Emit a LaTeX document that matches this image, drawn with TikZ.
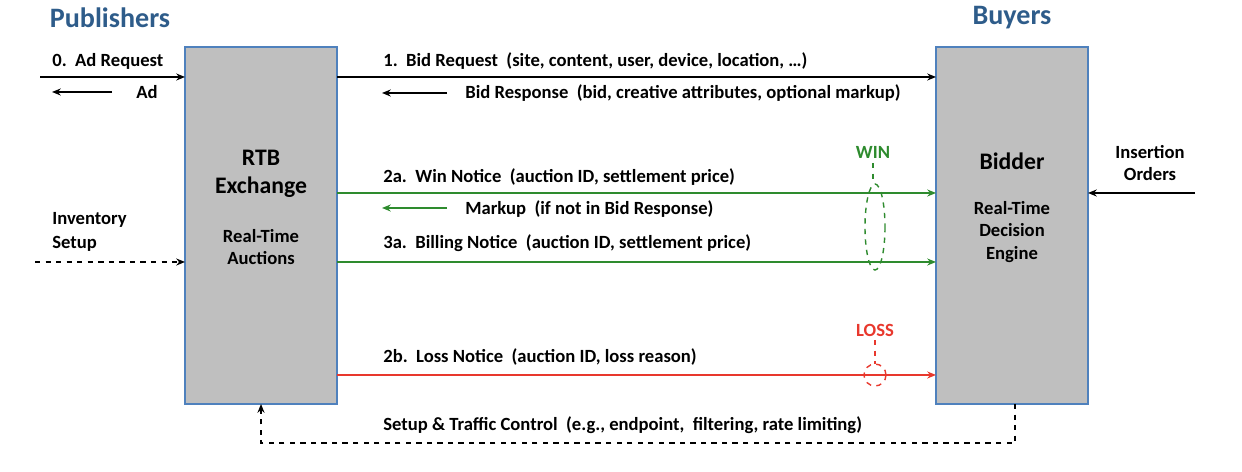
\documentclass[tikz,border=0pt]{standalone}
\usepackage{fontspec}
\setmainfont{Carlito}
\usetikzlibrary{arrows.meta}
\definecolor{bx}{HTML}{BFBFBF}
\definecolor{bb}{HTML}{4F81BD}
\definecolor{ttl}{HTML}{2E5C8A}
\definecolor{gr}{HTML}{2E8B2E}
\definecolor{rd}{HTML}{E8382D}
\begin{document}
\begin{tikzpicture}[x=0.02cm,y=-0.02cm,
  box/.style={draw=bb,line width=1.2pt,fill=bx},
  lbl/.style={font=\fontsize{10.6}{12}\selectfont\bfseries,anchor=west,inner sep=0},
  ctr/.style={font=\fontsize{10.6}{11}\selectfont\bfseries,align=center,inner sep=0},
  arr/.style={-{Stealth[length=5pt,width=4pt]},line width=0.8pt},
  ttlst/.style={font=\fontsize{16}{18}\selectfont\bfseries,text=ttl}]
\useasboundingbox (0,0) rectangle (1242,472);
\fill[box] (185,47) rectangle (337,404);
\fill[box] (936,47) rectangle (1088,404);
\node[ttlst] (pub) at (110,18) {Publishers};
\node[ttlst] (buy) at (1012,18) {Buyers};
\node[font=\fontsize{13.5}{16}\selectfont\bfseries,align=center] (rtb) at (261,174) {RTB\\Exchange};
\node[ctr,align=center] (rta) at (261,247) {Real-Time\\[2pt]Auctions};
\node[font=\fontsize{13.5}{16}\selectfont\bfseries] (bid) at (1012,161) {Bidder};
\node[ctr] (rtd) at (1012,232) {Real-Time\\[2pt]Decision\\[2pt]Engine};
% coordinates
\coordinate (L0) at (40,77); \coordinate (L0e) at (185,77);
\coordinate (X1) at (337,77); \coordinate (B1) at (936,77);
% publisher side
\node[lbl] (t0) at (52,61) {0.\ \ Ad Request};
\draw[arr] (L0) -- (L0e);
\coordinate (ad1) at (112,92); \coordinate (ad2) at (52,92);
\draw[arr] (ad1) -- (ad2);
\node[lbl] (tad) at (136,92) {Ad};
\node[lbl,align=left] (inv) at (52,232) {Inventory\\[2pt]Setup};
\coordinate (iv1) at (35,262); \coordinate (iv2) at (185,262);
\draw[arr,dashed] (iv1) -- (iv2);
% bid request/response
\node[lbl] (t1) at (383,61) {1.\ \ Bid Request\ \ (site, content, user, device, location, …)};
\draw[arr] (X1) -- (B1);
\coordinate (r1) at (447,93); \coordinate (r2) at (382,93);
\draw[arr] (r1) -- (r2);
\node[lbl] (tr) at (465,93) {Bid Response\ \ (bid, creative attributes, optional markup)};
% win
\node[lbl] (t2a) at (383,177) {2a.\ \ Win Notice\ \ (auction ID, settlement price)};
\coordinate (w1) at (337,193); \coordinate (w2) at (936,193);
\draw[arr,gr] (w1) -- (w2);
\coordinate (m1) at (447,208); \coordinate (m2) at (382,208);
\draw[arr,gr] (m1) -- (m2);
\node[lbl] (tm) at (465,209) {Markup\ \ (if not in Bid Response)};
\node[lbl] (t3a) at (383,243) {3a.\ \ Billing Notice\ \ (auction ID, settlement price)};
\coordinate (b1) at (337,262); \coordinate (b2) at (936,262);
\draw[arr,gr] (b1) -- (b2);
\node[font=\fontsize{10.6}{12}\selectfont\bfseries,text=gr] (win) at (873,152) {WIN};
\coordinate (wl1) at (873,163); \coordinate (wl2) at (873,184);
\draw[gr,dashed,line width=0.8pt] (wl1) -- (wl2);
\draw[gr,dashed,line width=0.8pt] (875,227) ellipse [x radius=10,y radius=43];
% loss
\node[lbl] (t2b) at (383,357) {2b.\ \ Loss Notice\ \ (auction ID, loss reason)};
\coordinate (l1) at (337,375); \coordinate (l2) at (936,375);
\draw[arr,rd] (l1) -- (l2);
\node[font=\fontsize{10.6}{12}\selectfont\bfseries,text=rd] (loss) at (875,330) {LOSS};
\coordinate (ll1) at (875,340); \coordinate (ll2) at (875,364);
\draw[rd,dashed,line width=0.8pt] (ll1) -- (ll2);
\draw[rd,dashed,line width=0.8pt] (875,375) circle [radius=11];
% insertion orders
\node[ctr] (io) at (1150,163) {Insertion\\[2pt]Orders};
\coordinate (io1) at (1195,193); \coordinate (io2) at (1088,193);
\draw[arr] (io1) -- (io2);
% setup
\coordinate (s1) at (1015,404); \coordinate (s2) at (261,404);
\draw[arr,dashed] (s1) -- (1015,443) -- (261,443) -- (s2);
\node[lbl] (ts) at (383,425) {Setup \& Traffic Control\ \ (e.g., endpoint,\ \ filtering, rate limiting)};
\end{tikzpicture}
\end{document}
